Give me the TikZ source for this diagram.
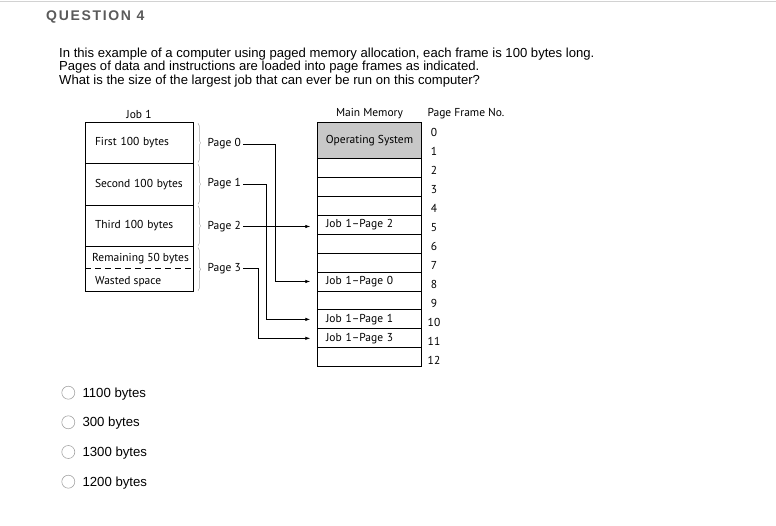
\documentclass[tikz,border=0pt]{standalone}
\usepackage{fontspec}
\setmainfont{Liberation Sans}
\newfontfamily\figfont{PT Sans}
\newfontfamily\headfont[LetterSpace=12]{Liberation Sans}
\usetikzlibrary{arrows.meta, positioning, calc, decorations.pathreplacing}
\definecolor{HeadGray}{RGB}{90, 90, 90}
\definecolor{RuleGray}{RGB}{210, 210, 210}
\definecolor{OSGray}{RGB}{200, 200, 200}
\definecolor{RadioGray}{RGB}{165, 165, 165}
\newcommand{\figsize}{\figfont\fontsize{11.5}{13}\selectfont}

\begin{document}
\begin{tikzpicture}[
        x=1pt, y=-1pt,
        question/.style={anchor=base west, inner sep=0, font=\fontsize{13.1}{15}\selectfont},
        jobrow/.style={draw, line width=0.8pt, minimum width=108pt, text width=88pt, inner xsep=10pt, inner ysep=0, outer sep=0, align=left, font=\figsize},
        memframe/.style={draw, line width=0.8pt, minimum width=104.4pt, minimum height=18.95pt, text width=87pt, inner xsep=8.7pt, inner ysep=0, outer sep=0, align=left, font=\figsize},
        figlabel/.style={inner sep=0, font=\figsize},
        pagelabel/.style={figlabel, anchor=west, inner sep=2.5pt},
        pagebrace/.style={draw=gray!70, line width=0.5pt, decorate, decoration={brace, amplitude=2.5pt}},
        link/.style={line width=0.8pt, -{Latex[length=5pt, width=3.5pt]}, shorten >=7pt},
        radio/.style={circle, draw=RadioGray, fill=white, minimum size=13pt, inner sep=0, line width=0.6pt}
    ]
        \useasboundingbox (0,0) rectangle (776,526);

        % Question header and text
        \draw[RuleGray, line width=1pt] (0,1.7) -- (776,1.7);
        \node[anchor=base west, inner sep=0, text=HeadGray, font=\headfont\bfseries\fontsize{14}{16}\selectfont] (qhead) at (46,20.7) {QUESTION 4};
        \node[question] (qline1) at (59,57.5) {In this example of a computer using paged memory allocation, each frame is 100 bytes long.};
        \node[question] (qline2) at (59,71) {Pages of data and instructions are loaded into page frames as indicated.};
        \node[question] (qline3) at (59,84.5) {What is the size of the largest job that can ever be run on this computer?};

        % Job 1 column
        \node[figlabel] (jobtitle) at (139,114) {Job 1};
        \node[jobrow, minimum height=40.8pt] (j0) at (139,142.9) {First 100 bytes};
        \node[jobrow, minimum height=41.7pt] (j1) at (139,184.15) {Second 100 bytes};
        \node[jobrow, minimum height=41.7pt] (j2) at (139,225.85) {Third 100 bytes};
        \node[jobrow, minimum height=45pt] (j3) at (139,269.2) {};
        \draw[line width=0.8pt, dash pattern=on 6pt off 4pt] (j3.west |- 0,268.3) -- (j3.east |- 0,268.3);
        \node[figlabel, anchor=west] (remain) at (92,259) {Remaining 50 bytes};
        \node[figlabel, anchor=west] (waste) at (95,281.7) {Wasted space};

        % Braces and page labels
        \foreach \r in {0,...,3}
            \draw[pagebrace] ([xshift=5pt, yshift=-0.8pt]j\r.north east) -- ([xshift=5pt, yshift=0.8pt]j\r.south east);
        \node[pagelabel] (page0) at (205,144) {Page 0};
        \node[pagelabel] (page1) at (205,184) {Page 1};
        \node[pagelabel] (page2) at (205,226.5) {Page 2};
        \node[pagelabel] (page3) at (205,268.3) {Page 3};

        % Main memory
        \node[figlabel] (memtitle) at (369.5,114) {Main Memory};
        \node[figlabel] (frametitle) at (466,114) {Page Frame No.};
        \node[draw, line width=0.8pt, fill=OSGray, minimum width=104.4pt, minimum height=35.6pt, inner sep=0, outer sep=0, font=\figsize] (os) at (369.5,140.5) {Operating System};
        \foreach \k/\txt in {2/, 3/, 4/, 5/Job 1\textendash Page 2, 6/, 7/, 8/Job 1\textendash Page 0, 9/, 10/Job 1\textendash Page 1, 11/Job 1\textendash Page 3, 12/}
            \node[memframe] (f\k) at (369.5,{167.775+(\k-2)*18.95}) {\txt};
        \foreach \k in {0,...,12}
            \node[figlabel] (n\k) at (434,{132.7+18.95*\k}) {\k};

        % Connections
        \draw[link] (page0.east) -| ([xshift=-42pt]f8.west) -- (f8.west);
        \draw[link] (page1.east) -| ([xshift=-51pt]f10.west) -- (f10.west);
        \draw[link] (page2.east) -- (page2.east -| f5.west);
        \draw[link] (page3.east) -| ([xshift=-59pt]f11.west) -- (f11.west);

        % Answer choices
        \foreach \y/\ans [count=\i] in {392.7/1100 bytes, 422.3/300 bytes, 452/1300 bytes, 481.7/1200 bytes} {
            \node[radio] (radio\i) at (68.3,\y) {};
            \node[question, font=\fontsize{13.2}{15}\selectfont] (ans\i) at (82.3,\y+4.6) {\ans};
        }
    \end{tikzpicture}
\end{document}
